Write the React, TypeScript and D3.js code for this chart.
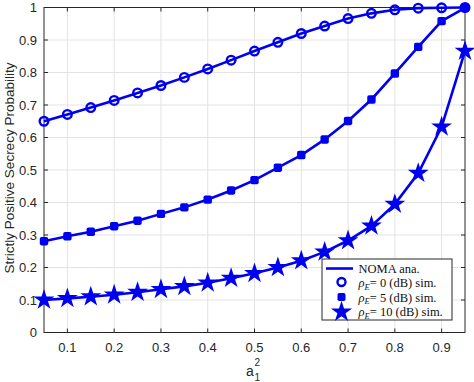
import React from "react";
import * as d3 from "d3";

const xs = [0.05, 0.1, 0.15, 0.2, 0.25, 0.3, 0.35, 0.4, 0.45, 0.5, 0.55, 0.6, 0.65, 0.7, 0.75, 0.8, 0.85, 0.9, 0.95];
const rho0 = [0.65, 0.671, 0.692, 0.714, 0.737, 0.76, 0.785, 0.811, 0.838, 0.866, 0.893, 0.92, 0.943, 0.966, 0.982, 0.993, 0.998, 0.999, 1.0];
const rho5 = [0.281, 0.296, 0.31, 0.327, 0.344, 0.365, 0.385, 0.409, 0.437, 0.469, 0.507, 0.546, 0.594, 0.651, 0.717, 0.797, 0.879, 0.958, 0.999];
const rho10 = [0.1, 0.105, 0.11, 0.116, 0.124, 0.133, 0.142, 0.153, 0.167, 0.182, 0.2, 0.221, 0.248, 0.283, 0.328, 0.395, 0.49, 0.633, 0.866];
const xTicks = [0.1, 0.2, 0.3, 0.4, 0.5, 0.6, 0.7, 0.8, 0.9];
const yTicks = [0, 0.1, 0.2, 0.3, 0.4, 0.5, 0.6, 0.7, 0.8, 0.9, 1];
const legendLabels = ["NOMA ana.", "0 (dB) sim.", "5 (dB) sim.", "10 (dB) sim."];

const W = 474, H = 382;
const L = 44, R = 465, T = 7.5, B = 332.5;
const BLUE = "#0000f0";
const AX = "#262626";

const starPath = d3.symbol().type(d3.symbolStar).size(135)() as string;
const starSmall = d3.symbol().type(d3.symbolStar).size(140)() as string;

export default function App() {
  const x = d3.scaleLinear().domain([0.05, 0.95]).range([L, R]);
  const y = d3.scaleLinear().domain([0, 1]).range([B, T]);
  const line = d3.line<number>().x((_, i) => x(xs[i])).y((d) => y(d));
  const font = "Liberation Sans, Arial, Helvetica, sans-serif";
  const serif = "Liberation Serif, DejaVu Serif, serif";
  const lx = 322, ly = 259;
  return (
    <svg width={W} height={H} style={{ position: "absolute", left: 0, top: 0, background: "#fff" }}>
      <rect x={0} y={0} width={W} height={H} fill="#fff" />
      {/* grid */}
      {xTicks.map((t) => (
        <line key={"gx" + t} x1={x(t)} x2={x(t)} y1={T} y2={B} stroke="#e3e3e3" strokeWidth={1} />
      ))}
      {yTicks.map((t) => (
        <line key={"gy" + t} x1={L} x2={R} y1={y(t)} y2={y(t)} stroke="#e3e3e3" strokeWidth={1} />
      ))}
      {/* ticks */}
      {xTicks.map((t) => (
        <g key={"tx" + t}>
          <line x1={x(t)} x2={x(t)} y1={B} y2={B - 4} stroke={AX} />
          <line x1={x(t)} x2={x(t)} y1={T} y2={T + 4} stroke={AX} />
          <text x={x(t)} y={352} textAnchor="middle" fontFamily={font} fontSize={13} fill={AX}>
            {t.toFixed(1)}
          </text>
        </g>
      ))}
      {yTicks.map((t) => (
        <g key={"ty" + t}>
          <line x1={L} x2={L + 4} y1={y(t)} y2={y(t)} stroke={AX} />
          <line x1={R} x2={R - 4} y1={y(t)} y2={y(t)} stroke={AX} />
          <text x={37} y={y(t) + 4.5} textAnchor="end" fontFamily={font} fontSize={13} fill={AX}>
            {t === 0 || t === 1 ? String(t) : t.toFixed(1)}
          </text>
        </g>
      ))}
      <rect x={L} y={T} width={R - L} height={B - T} fill="none" stroke={AX} strokeWidth={1} />
      {/* series */}
      {[rho0, rho5, rho10].map((s, k) => (
        <path key={"l" + k} d={line(s) as string} fill="none" stroke={BLUE} strokeWidth={2.6} />
      ))}
      {rho0.map((v, i) => (
        <circle key={"c" + i} cx={x(xs[i])} cy={y(v)} r={4.3} fill="none" stroke={BLUE} strokeWidth={2.4} />
      ))}
      {rho5.map((v, i) => (
        <rect key={"s" + i} x={x(xs[i]) - 4.2} y={y(v) - 4.2} width={8.4} height={8.4} rx={1.8} fill={BLUE} />
      ))}
      {rho10.map((v, i) => (
        <path key={"st" + i} d={starPath} transform={`translate(${x(xs[i])},${y(v)})`} fill={BLUE} />
      ))}
      {/* legend */}
      <rect x={lx} y={ly} width={130} height={61} fill="#fff" stroke={AX} strokeWidth={1} />
      <line x1={lx + 4} x2={lx + 31} y1={268.5} y2={268.5} stroke={BLUE} strokeWidth={2.6} />
      <circle cx={341.5} cy={282} r={4} fill="none" stroke={BLUE} strokeWidth={2.4} />
      <rect x={341.5 - 4} y={297 - 4} width={8} height={8} rx={1.8} fill={BLUE} />
      <path d={starSmall} transform="translate(341.5,312)" fill={BLUE} />
      <text x={358.5} y={272.5} fontFamily={serif} fontSize={12.5} fill="#111">{legendLabels[0]}</text>
      {[1, 2, 3].map((k) => (
        <text key={"lt" + k} x={358.5} y={272.5 + k * 14.5} fontFamily={serif} fontSize={12.5} fill="#111">
          <tspan fontStyle="italic">ρ</tspan>
          <tspan fontStyle="italic" fontSize={8.5} dy={2.5}>E</tspan>
          <tspan dy={-2.5}>{"= " + legendLabels[k]}</tspan>
        </text>
      ))}
      {/* axis labels */}
      <text x={246} y={376} fontFamily={font} fontSize={14} fill={AX}>
        a
      </text>
      <text x={254.5} y={366} fontFamily={font} fontSize={10} fill={AX}>2</text>
      <text x={254.5} y={381} fontFamily={font} fontSize={10} fill={AX}>1</text>
      <text
        transform={`translate(14,168) rotate(-90)`}
        textAnchor="middle"
        fontFamily={font}
        fontSize={13.5}
        fill={AX}
      >
        Strictly Positive Secrecy Probability
      </text>
    </svg>
  );
}
